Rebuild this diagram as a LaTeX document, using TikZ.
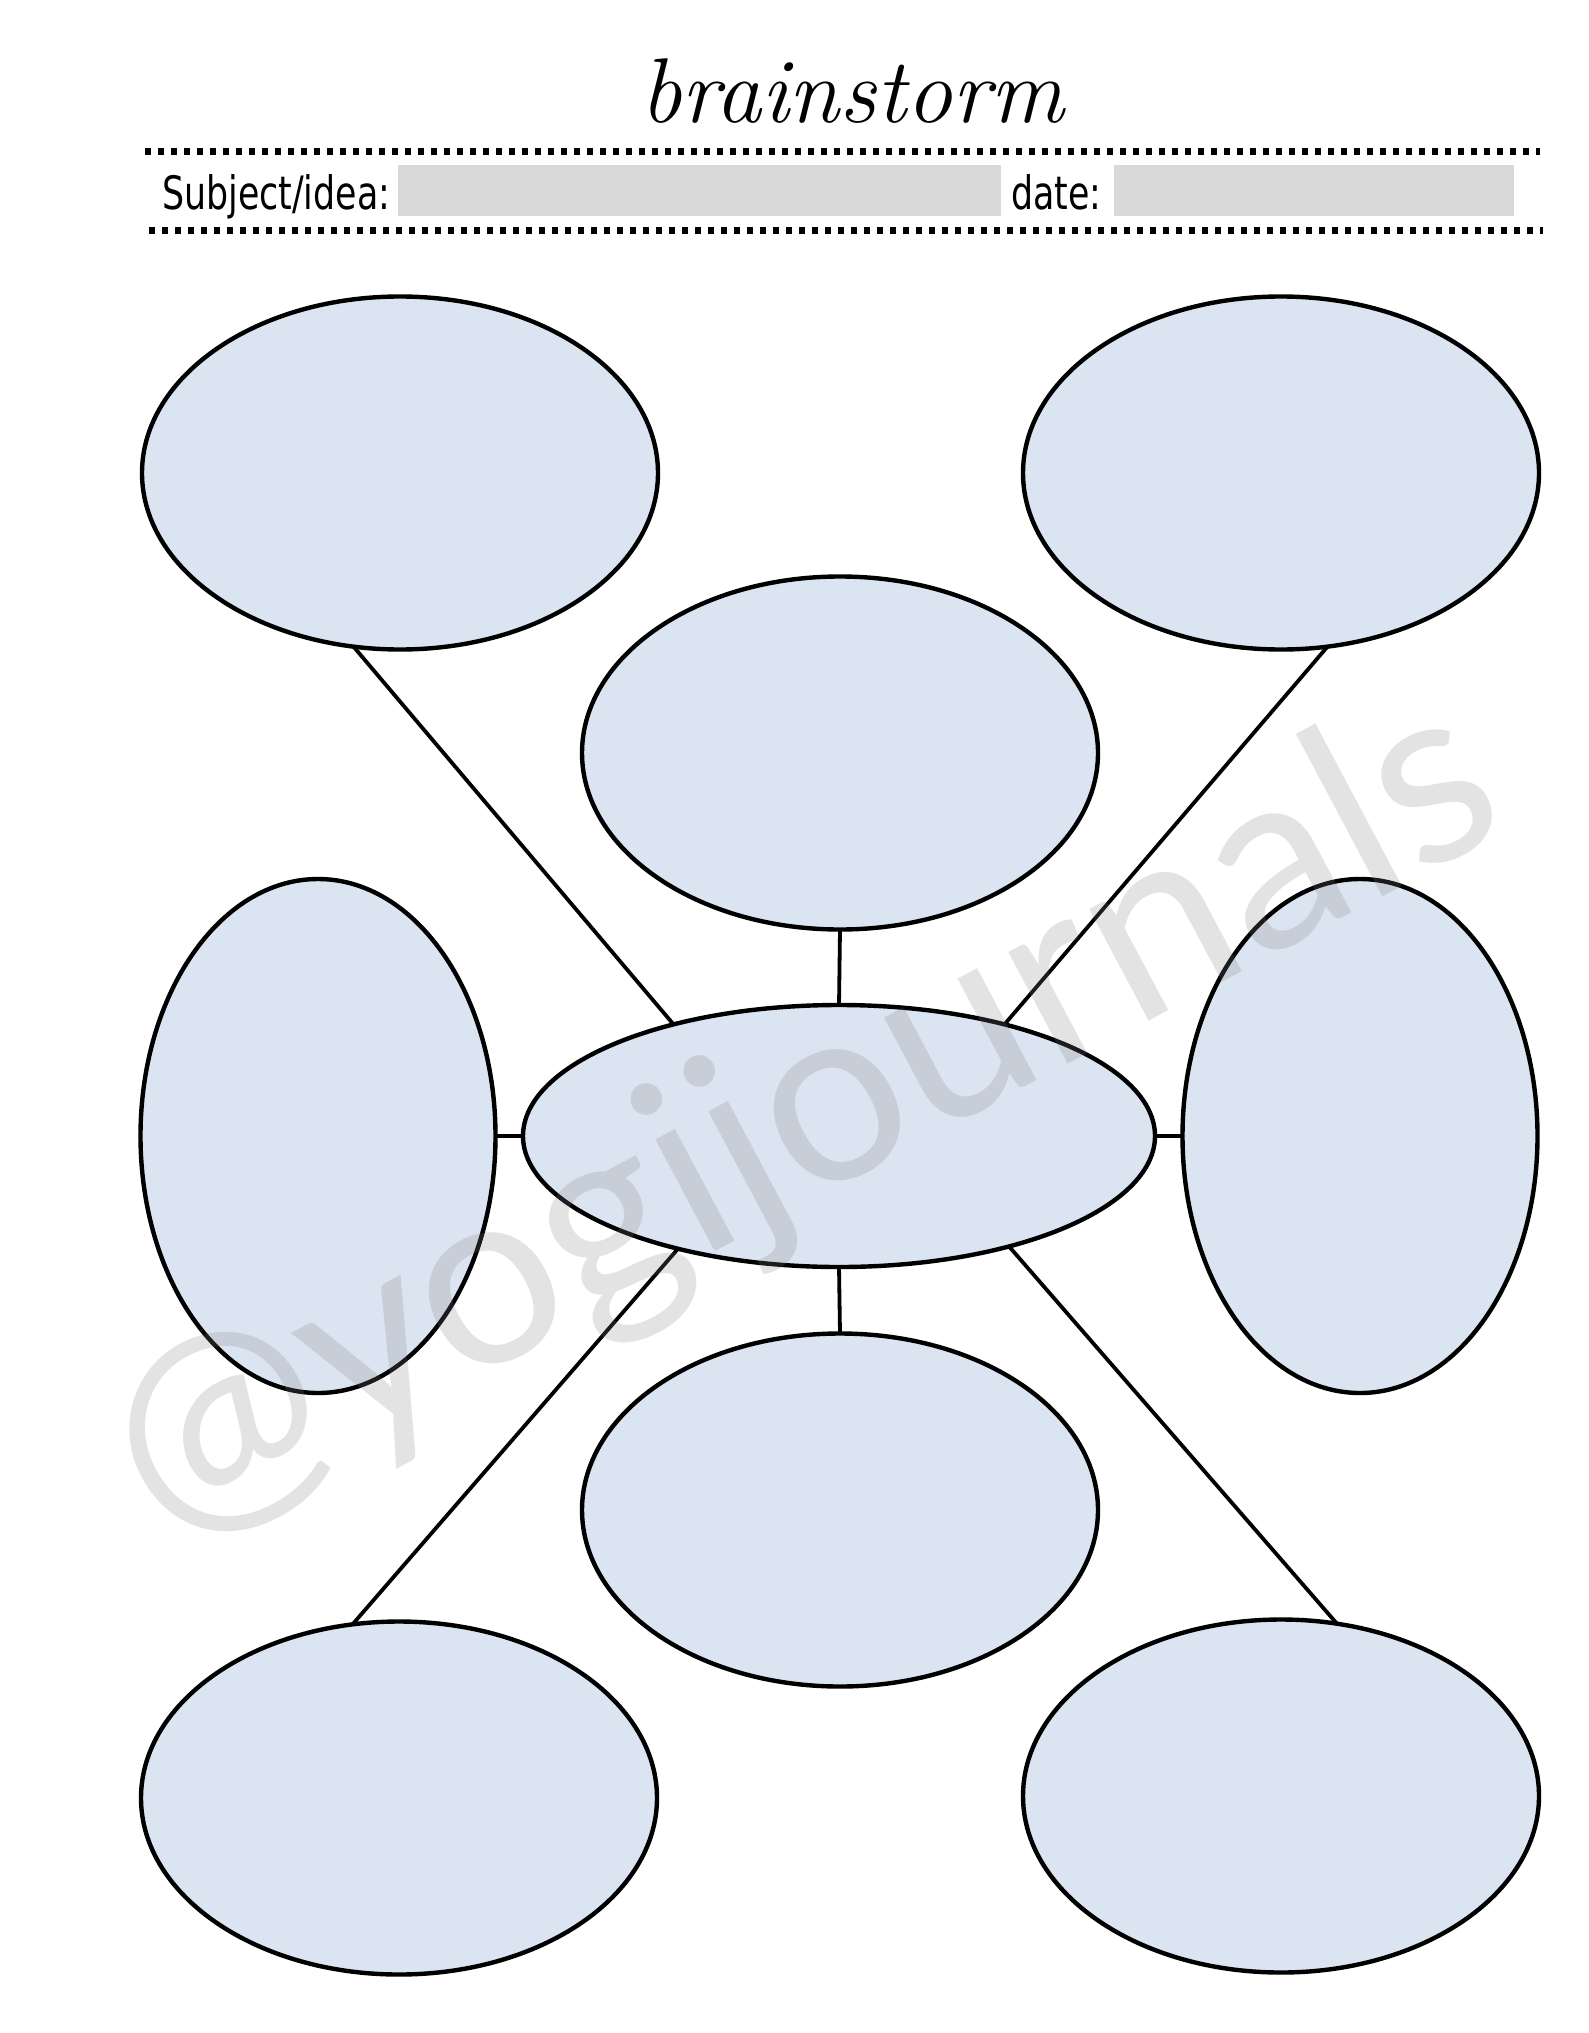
\documentclass[tikz,border=0pt]{standalone}
\usepackage{fontspec}
\usepackage{xcolor}
\usetikzlibrary{shapes,positioning}
\newfontfamily\handfont{DejaVu Sans Condensed}[FakeStretch=0.84]
\newfontfamily\markfont{Lato}
\definecolor{bubblefill}{RGB}{219,228,241}
\definecolor{fieldfill}{RGB}{217,217,217}
\definecolor{markgray}{RGB}{128,128,128}

\begin{document}
\begin{tikzpicture}
    [x=1pt, y=-1pt,
      bubble/.style={ellipse,draw,line width=4.4pt,fill=bubblefill,inner sep=0pt,outer sep=0pt,
        minimum width=516pt,minimum height=353pt},
      tall/.style={bubble,minimum width=355pt,minimum height=514pt},
      spoke/.style={line width=3.8pt},
      dotrule/.style={line width=7pt,dash pattern=on 6pt off 7pt},
      field/.style={fill=fieldfill,inner sep=0pt,minimum height=51pt},
      label/.style={font=\handfont\fontsize{46}{46}\selectfont,inner sep=0pt,anchor=base west}]
    \useasboundingbox (0,0) rectangle (1588,2033);

    % header
    \node[font=\itshape\fontsize{92}{92}\selectfont,anchor=base] (title) at (852,123) {brainstorm};
    \coordinate (rule1a) at (145,152);
    \coordinate (rule1b) at (1540,152);
    \coordinate (rule2a) at (149,231);
    \coordinate (rule2b) at (1543,231);
    \draw[dotrule] (rule1a) -- (rule1b);
    \draw[dotrule] (rule2a) -- (rule2b);
    \node[label] (subject) at (162,210) {Subject/idea:};
    \node[field,minimum width=603pt] (subjectbox) at (699.5,190.5) {};
    \node[label] (date) at (1011,210) {date:};
    \node[field,minimum width=400pt] (datebox) at (1314,190.5) {};

    % bubbles
    \node[bubble] (tl) at (400,473) {};
    \node[bubble] (tr) at (1281,473) {};
    \node[bubble] (top) at (840,753) {};
    \node[tall] (left) at (318,1136) {};
    \node[tall] (right) at (1360,1136) {};
    \node[bubble,minimum width=632pt,minimum height=262pt] (hub) at (839,1136) {};
    \node[bubble] (bot) at (840,1510) {};
    \node[bubble] (bl) at (399,1798) {};
    \node[bubble] (br) at (1281,1796) {};

    % spokes
    \draw[spoke] (tl.-105) -- (hub.146);
    \draw[spoke] (tr.-75) -- (hub.34);
    \draw[spoke] (top.south) -- (hub.north);
    \draw[spoke] (left.east) -- (hub.west);
    \draw[spoke] (hub.east) -- (right.west);
    \draw[spoke] (hub.south) -- (bot.north);
    \draw[spoke] (hub.-145) -- (bl.105);
    \draw[spoke] (hub.-33) -- (br.72);

    % watermark
    \node[rotate=28,text=markgray,opacity=0.22,font=\markfont\fontsize{250}{250}\selectfont]
      (mark) at (806,1125) {@yogijournals};
\end{tikzpicture}
\end{document}
